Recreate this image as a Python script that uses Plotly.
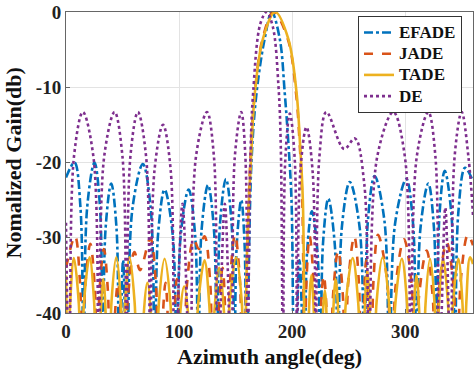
import plotly.graph_objects as go

# ---------------- data ----------------
efade_x = [0, 7.5, 12.8, 15.5, 18.7, 25.2, 30.1, 32.5, 35.0, 40, 44.7, 47, 50.5, 54, 58.7, 68, 75, 78.5,
           81.4, 87.2, 94.4, 98, 101.5, 108.5, 114.2, 117, 119.9, 125.6, 130.9, 133.5, 136.2, 141.5, 146.5,
           149, 151, 155, 158, 159.5, 164, 168.5, 175.8, 182, 189, 193.5, 196.5, 199.5, 202, 206.5, 211,
           213.2, 217.5, 222.5, 225, 227.3, 232, 237.7, 240.5, 244, 251, 259.7, 264, 267, 273, 281.7, 286,
           291, 301, 307, 310, 313.5, 320.5, 325.5, 328, 330.3, 335, 341, 344, 347, 353, 360]
efade_y = [-22, -20, -26, -50, -26, -20, -26, -50, -28.8, -22.8, -28.8, -50, -33, -50, -26.2, -20.2, -26.2, -50,
           -29.6, -23.6, -29.6, -50, -29.6, -23.6, -29.6, -50, -29, -23, -29, -50, -28.2, -22.2, -28.2,
           -50, -31, -25, -31, -50, -20, -10.8, -3.5, 0, -3.5, -10.8, -17, -25.2, -50, -33, -50,
           -32, -26.5, -32, -50, -30.8, -24.8, -30.8, -50, -28.6, -22.6, -28.6, -50, -27.8, -21.8, -27.8, -50,
           -28.2, -22.2, -28.2, -50, -28.8, -22.8, -28.8, -50, -27.1, -21.1, -27.1, -50, -26.7, -20.7, -22.5]

jade_x = [0, 8, 12.3, 14.5, 16.8, 21.5, 25.5, 27.5, 29.5, 33.5, 37.2, 39, 46, 52, 54.8, 60.5, 65.5, 74.5,
          79.5, 82, 88, 93, 98, 104, 107, 113, 117.5, 122.5, 127.5, 130, 138.5, 143, 145.2, 149.5, 153.8,
          156, 160.7, 163, 167, 174, 183.5, 196, 203.5, 206.5, 209, 211, 212.7, 215.5, 219, 221, 228, 234,
          236.2, 240.7, 244.9, 247, 249.7, 255, 259, 261, 265.5, 270, 272, 276, 284, 288, 291.7, 299, 305.7,
          309, 312.3, 319, 324.3, 327, 330.2, 336.7, 342.9, 346, 349.2, 355.5, 360]
jade_y = [-34, -29.8, -35.8, -50, -36.8, -30.8, -36.8, -50, -37.5, -31.5, -37.5, -50, -36, -50, -37.9, -31.9, -34.3, -30.1,
          -36.1, -50, -36, -50, -35.5, -50, -36.2, -30.2, -31.5, -29.8, -35.8, -50, -34, -50, -35.6, -29.6, -35.6,
          -50, -30, -20, -10.8, -3.5, 0, -3.5, -10.8, -17, -25, -50, -35.8, -29.8, -35.8, -50, -35, -50,
          -37.7, -31.7, -37.7, -50, -35.8, -29.8, -35.8, -50, -33, -50, -35.6, -29.6, -35.6, -50, -36.2, -30.2, -36.2,
          -50, -37.7, -31.7, -37.7, -50, -36.6, -30.6, -36.6, -50, -35.6, -29.6, -31]

tade_x = [0, 2, 3.7, 7, 11.3, 13.5, 15.9, 20.8, 24.9, 27, 33, 38, 40.2, 44.5, 48.5, 50.5, 52.4, 56.2, 60.7,
          63.5, 72, 79.5, 82.1, 87.2, 92.4, 95, 104.5, 114, 116.8, 122.5, 126.8, 129, 131.2, 135.5, 139.8, 142,
          144.8, 150.5, 155.5, 157.5, 160.5, 163.5, 167, 174.3, 185, 196.5, 204, 206.8, 209.5, 212, 217, 223,
          229, 233, 238.5, 244.5, 247.5, 253.5, 258.5, 261, 266.5, 272, 274.7, 280, 285.7, 288.5, 291.3, 297,
          301.7, 304, 310, 316, 318, 322, 326, 328, 329.9, 333.6, 337.9, 340, 342.3, 347, 350.7, 352.5, 354.1,
          357.4, 360]
tade_y = [-35, -50, -38.7, -32.7, -38.7, -50, -38.6, -32.6, -38.6, -50, -35.5, -50, -38.6, -32.6, -38.6, -50, -38.6, -32.6, -38.6,
          -50, -36, -50, -38.8, -32.8, -38.8, -50, -36.5, -50, -39, -33, -39, -50, -40, -34, -40, -50,
          -38.6, -32.6, -38.6, -50, -30, -20, -10.8, -3.5, 0, -3.5, -10.8, -17, -25, -50, -35, -50,
          -37, -50, -35.5, -50, -38.7, -32.7, -38.7, -50, -34.5, -50, -38.6, -32.6, -38.6, -50, -38.8, -32.8,
          -38.8, -50, -35, -50, -38.8, -32.8, -38.8, -50, -38.8, -32.8, -38.8, -50, -38.8, -32.8, -38.8, -50, -38.6,
          -32.6, -33.5]

de_x = [0, 3, 7, 14.9, 24.3, 29, 33.7, 43, 50, 53.5, 56.9, 63.6, 70.9, 74.5, 78.3, 85.8, 92.6, 96, 103, 110,
        114.9, 124.7, 130.9, 134, 140.5, 146.5, 149.3, 155, 158.7, 160.5, 163, 165.5, 172, 177.5, 183, 188, 190,
        192, 194, 198, 202.3, 204.5, 207.2, 212.7, 218.2, 221, 224.1, 230.4, 246, 255.5, 263.8, 268, 275.2,
        289.5, 299.8, 305, 310.2, 320.5, 326.8, 330, 335.5, 340.5, 343.7, 350, 356, 360]
de_y = [-28, -50, -19.3, -13.3, -19.3, -50, -19.3, -13.3, -19.3, -50, -19.3, -13.3, -19.3, -50, -21, -15, -21, -50, -25.5, -50,
        -19.3, -13.3, -19.3, -50, -25.5, -50, -19.3, -13.3, -19.3, -50, -20, -10.8, -1.5, 0, -2, -10, -18,
        -50, -19.5, -13.5, -19.5, -50, -21.3, -15.3, -21.3, -50, -19.3, -13.3, -18.2, -16.8, -22.8, -50, -19.3,
        -13.3, -19.3, -50, -19.3, -13.3, -19.3, -50, -26, -50, -19.3, -13.3, -19.3, -27]

series_names = ["EFADE", "JADE", "TADE", "DE"]
x_ticks = [0, 100, 200, 300]
y_ticks = [-40, -30, -20, -10, 0]

# ---------------- figure ----------------
FONT = "Liberation Serif, Times New Roman, serif"
colors = ["#0072BD", "#D95319", "#EDB120", "#7E2F8E"]
dashes = ["dashdot", "dash", "solid", "dot"]
xs = [efade_x, jade_x, tade_x, de_x]
ys = [efade_y, jade_y, tade_y, de_y]

fig = go.Figure()
for name, x, y, c, d in zip(series_names, xs, ys, colors, dashes):
    fig.add_trace(go.Scatter(x=x, y=y, name="<span style='font-size:17px'>%s</span>" % name, mode="lines",
                             line=dict(color=c, width=2.6, dash=d, shape="spline", smoothing=1.0)))

fig.update_layout(
    width=474, height=370,
    margin=dict(l=66, r=1, t=12, b=57, autoexpand=False),
    paper_bgcolor="white", plot_bgcolor="white",
    font=dict(family=FONT, size=19, color="#222", weight="bold"),
    showlegend=True,
    legend=dict(x=0.973, y=0.987, xanchor="right", yanchor="top",
                bgcolor="white", bordercolor="#333", borderwidth=1,
                font=dict(family=FONT, size=14, color="#111", weight="bold"),
                tracegroupgap=0, itemwidth=30),
    annotations=[
        dict(text="Azimuth angle(deg)", xref="paper", yref="paper", x=0.5, y=-0.143,
             xanchor="center", yanchor="middle", showarrow=False,
             font=dict(family=FONT, size=22, color="#111", weight="bold")),
        dict(text="Nomalized Gain(db)", xref="paper", yref="paper", x=-0.128, y=0.5,
             xanchor="center", yanchor="middle", showarrow=False, textangle=-90,
             font=dict(family=FONT, size=22, color="#111", weight="bold")),
    ],
)
fig.update_xaxes(range=[0, 360], tickvals=x_ticks, ticktext=[str(v) for v in x_ticks],
                 showgrid=True, gridcolor="#e3e3e3", gridwidth=1, zeroline=False,
                 showline=True, linecolor="#666", linewidth=1, mirror=True,
                 ticks="inside", ticklen=4, tickcolor="#666", ticklabelstandoff=1,
                 ticklabeloverflow="allow",
                 tickfont=dict(family=FONT, size=19, color="#222", weight="bold"))
fig.update_yaxes(range=[-40, 0], tickvals=y_ticks, ticktext=[str(v) for v in y_ticks],
                 showgrid=True, gridcolor="#e3e3e3", gridwidth=1, zeroline=False,
                 showline=True, linecolor="#666", linewidth=1, mirror=True,
                 ticks="inside", ticklen=4, tickcolor="#666",
                 ticklabeloverflow="allow",
                 tickfont=dict(family=FONT, size=19, color="#222", weight="bold"))

fig.write_html("out.html", config={"displayModeBar": False},
               post_script="document.body.style.margin='0px';document.body.style.overflow='hidden';")
